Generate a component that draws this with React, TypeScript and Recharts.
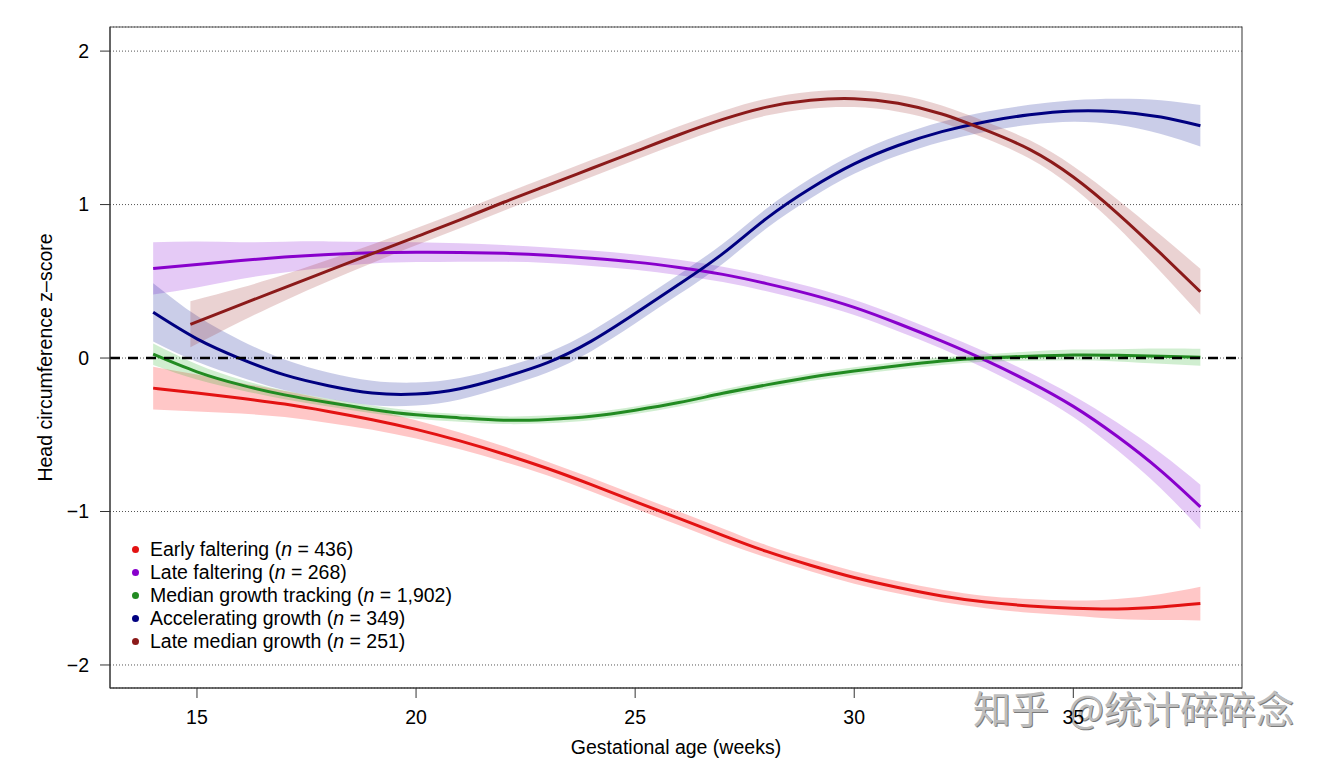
import React from 'react'
import {
  ComposedChart,
  Line,
  Area,
  XAxis,
  YAxis,
  CartesianGrid,
  ReferenceLine,
  ReferenceArea,
  Legend,
} from 'recharts'

// gestational weeks at which the fitted trajectories are sampled
const WEEKS = [14, 15, 16, 17, 18, 19, 20, 21, 22, 23, 24, 25, 26, 27, 28, 29, 30, 31, 32, 33, 34, 35, 36, 37, 37.9]
const LATE_MEDIAN_WEEKS = [14.85, 16, 17, 18, 19, 20, 21, 22, 23, 24, 25, 26, 27, 28, 29, 30, 31, 32, 33, 34, 35, 36, 37, 37.9]

// mean z-score and half-width of the 95% band for each cluster
const EARLY_FALTERING = [-0.196, -0.228, -0.262, -0.3, -0.348, -0.402, -0.465, -0.54, -0.625, -0.72, -0.825, -0.935, -1.045, -1.155, -1.26, -1.35, -1.43, -1.495, -1.55, -1.59, -1.615, -1.63, -1.635, -1.622, -1.6]
const EARLY_FALTERING_CI = [0.14, 0.12, 0.1, 0.085, 0.075, 0.065, 0.06, 0.055, 0.05, 0.045, 0.045, 0.045, 0.045, 0.045, 0.04, 0.04, 0.04, 0.04, 0.04, 0.04, 0.045, 0.05, 0.065, 0.085, 0.11]

const LATE_FALTERING = [0.584, 0.61, 0.635, 0.658, 0.675, 0.686, 0.69, 0.688, 0.682, 0.67, 0.65, 0.625, 0.59, 0.545, 0.485, 0.415, 0.33, 0.225, 0.11, -0.015, -0.155, -0.315, -0.51, -0.735, -0.97]
const LATE_FALTERING_CI = [0.17, 0.15, 0.12, 0.1, 0.085, 0.07, 0.065, 0.06, 0.055, 0.05, 0.05, 0.05, 0.05, 0.05, 0.05, 0.05, 0.05, 0.05, 0.05, 0.055, 0.06, 0.07, 0.09, 0.115, 0.145]

const MEDIAN_TRACKING = [0.025, -0.09, -0.175, -0.24, -0.29, -0.335, -0.37, -0.39, -0.405, -0.4, -0.38, -0.34, -0.29, -0.23, -0.175, -0.125, -0.085, -0.05, -0.02, 0.0, 0.012, 0.02, 0.018, 0.012, 0.005]
const MEDIAN_TRACKING_CI = [0.07, 0.05, 0.035, 0.028, 0.025, 0.025, 0.025, 0.025, 0.025, 0.025, 0.025, 0.025, 0.025, 0.025, 0.025, 0.025, 0.025, 0.025, 0.025, 0.025, 0.03, 0.035, 0.04, 0.05, 0.055]

const ACCELERATING = [0.298, 0.125, -0.005, -0.11, -0.18, -0.228, -0.235, -0.2, -0.125, -0.03, 0.11, 0.29, 0.48, 0.68, 0.91, 1.105, 1.265, 1.385, 1.475, 1.54, 1.585, 1.61, 1.605, 1.57, 1.513]
const ACCELERATING_CI = [0.19, 0.15, 0.12, 0.1, 0.085, 0.08, 0.075, 0.07, 0.065, 0.065, 0.065, 0.065, 0.065, 0.065, 0.065, 0.065, 0.065, 0.065, 0.065, 0.065, 0.065, 0.07, 0.085, 0.11, 0.135]

const LATE_MEDIAN = [0.22, 0.348, 0.459, 0.57, 0.68, 0.79, 0.9, 1.015, 1.125, 1.235, 1.345, 1.455, 1.555, 1.635, 1.68, 1.69, 1.66, 1.59, 1.485, 1.36, 1.18, 0.945, 0.68, 0.432]
const LATE_MEDIAN_CI = [0.15, 0.11, 0.085, 0.07, 0.06, 0.055, 0.055, 0.055, 0.055, 0.055, 0.055, 0.055, 0.055, 0.055, 0.055, 0.055, 0.055, 0.055, 0.055, 0.06, 0.07, 0.09, 0.12, 0.15]

const X_TICKS = [15, 20, 25, 30, 35]
const Y_TICKS = [-2, -1, 0, 1, 2]

const FONT = '"Liberation Sans", Arial, Helvetica, sans-serif'

type Group = {
  key: string
  label: string
  n: string
  color: string
  fill: string
  fillOpacity: number
  weeks: number[]
  mean: number[]
  ci: number[]
}

const GROUPS: Group[] = [
  { key: 'early', label: 'Early faltering', n: '436', color: '#e31212', fill: '#ff0000', fillOpacity: 0.22, weeks: WEEKS, mean: EARLY_FALTERING, ci: EARLY_FALTERING_CI },
  { key: 'late', label: 'Late faltering', n: '268', color: '#8800cc', fill: '#a040e0', fillOpacity: 0.28, weeks: WEEKS, mean: LATE_FALTERING, ci: LATE_FALTERING_CI },
  { key: 'median', label: 'Median growth tracking', n: '1,902', color: '#228b22', fill: '#32b432', fillOpacity: 0.23, weeks: WEEKS, mean: MEDIAN_TRACKING, ci: MEDIAN_TRACKING_CI },
  { key: 'accel', label: 'Accelerating growth', n: '349', color: '#000080', fill: '#2030a0', fillOpacity: 0.24, weeks: WEEKS, mean: ACCELERATING, ci: ACCELERATING_CI },
  { key: 'lateMedian', label: 'Late median growth', n: '251', color: '#8b1a1a', fill: '#a03030', fillOpacity: 0.22, weeks: LATE_MEDIAN_WEEKS, mean: LATE_MEDIAN, ci: LATE_MEDIAN_CI },
]

const rowsFor = (g: Group) =>
  g.weeks.map((w, i) => ({ week: w, z: g.mean[i], band: [g.mean[i] - g.ci[i], g.mean[i] + g.ci[i]] }))

const minus = (v: number) => (v < 0 ? `\u2212${Math.abs(v)}` : String(v))

function GroupLegend() {
  return (
    <div style={{ fontFamily: FONT, fontSize: 19.5, color: '#000' }}>
      {GROUPS.map((g) => (
        <div key={g.key} style={{ display: 'flex', alignItems: 'center', height: 23, whiteSpace: 'nowrap' }}>
          <span style={{ width: 7, height: 7, borderRadius: '50%', background: g.color, marginLeft: 4, marginRight: 11 }} />
          <span>
            {g.label} (<i>n</i> = {g.n})
          </span>
        </div>
      ))}
    </div>
  )
}

export default function App() {
  return (
    <div style={{ position: 'relative', width: 1311, height: 752, fontFamily: FONT }}>
      {/* site stamp, sits underneath the plot */}
      <div
        style={{
          position: 'absolute',
          left: 965,
          top: 679,
          fontFamily: '"Noto Sans CJK SC", sans-serif',
          fontSize: 38,
          lineHeight: '40px',
          color: '#bdbdbd',
          textShadow: '1px 1px 0 #7a7a7a',
          whiteSpace: 'pre',
          pointerEvents: 'none',
        }}
      >
        知乎<span style={{ marginLeft: 19 }}>@统计碎碎念</span>
      </div>
      <ComposedChart
        width={1311}
        height={752}
        margin={{ top: 19, right: 77, bottom: 0, left: 20 }}
        style={{ position: 'relative' }}
      >
        <CartesianGrid vertical={false} stroke="#555" strokeDasharray="1 2" />
        <XAxis
          dataKey="week"
          type="number"
          domain={[13.015, 38.85]}
          ticks={X_TICKS}
          allowDataOverflow
          height={72}
          tickSize={10}
          tickMargin={12}
          stroke="#333"
          tick={{ fill: '#000', fontSize: 19.5, fontFamily: FONT }}
          label={{ value: 'Gestational age (weeks)', position: 'insideBottom', offset: 6, fill: '#000', fontSize: 19.5, fontFamily: FONT }}
        />
        <YAxis
          type="number"
          domain={[-2.15, 2.157]}
          ticks={Y_TICKS}
          allowDataOverflow
          width={82}
          tickSize={10}
          tickMargin={11}
          stroke="#333"
          tickFormatter={minus}
          tick={{ fill: '#000', fontSize: 19.5, fontFamily: FONT }}
          label={{
            value: 'Head circumference z\u2013score',
            angle: -90,
            position: 'insideLeft',
            offset: 17,
            fill: '#000',
            fontSize: 19.5,
            fontFamily: FONT,
            style: { textAnchor: 'middle' },
          }}
        />
        <ReferenceArea x1={13.015} x2={38.85} y1={-2.15} y2={2.157} fill="none" stroke="#555" strokeWidth={1.2} />

        {GROUPS.map((g) => (
          <Area
            key={`${g.key}-ci`}
            data={rowsFor(g)}
            dataKey="band"
            type="natural"
            stroke="none"
            fill={g.fill}
            fillOpacity={g.fillOpacity}
            legendType="none"
            isAnimationActive={false}
          />
        ))}
        {GROUPS.map((g) => (
          <Line
            key={`${g.key}-mean`}
            data={rowsFor(g)}
            dataKey="z"
            type="natural"
            stroke={g.color}
            strokeWidth={3}
            dot={false}
            activeDot={false}
            isAnimationActive={false}
          />
        ))}

        <ReferenceLine y={0} stroke="#000" strokeWidth={2.5} strokeDasharray="10 8" />

        <Legend
          layout="vertical"
          align="center"
          verticalAlign="middle"
          wrapperStyle={{ left: 120, top: 530, width: 380 }}
          content={() => <GroupLegend />}
        />
      </ComposedChart>
    </div>
  )
}
